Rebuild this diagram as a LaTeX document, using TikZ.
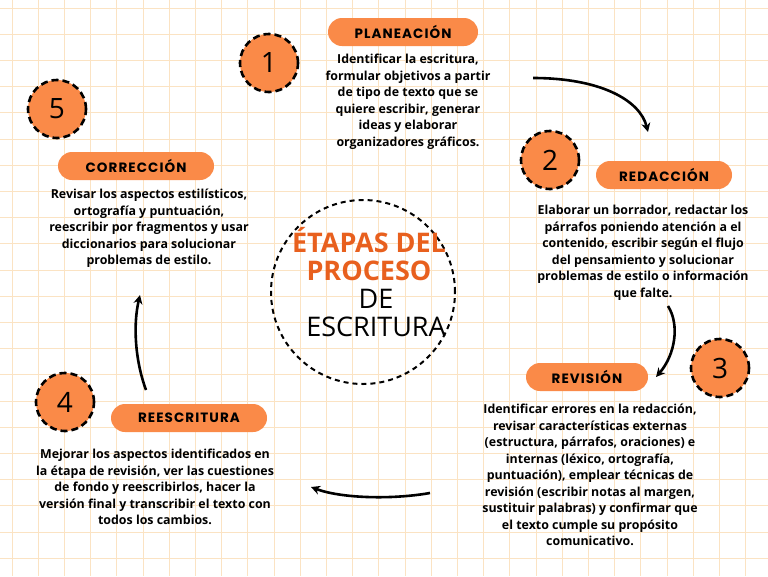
\documentclass[tikz,border=0pt]{standalone}
\usepackage{fontspec}
\setmainfont{Open Sans}
\newfontfamily\headf[LetterSpace=8]{Poppins}
\newfontfamily\titf{Open Sans}
\usetikzlibrary{arrows.meta}
\definecolor{org}{HTML}{FA8A48}
\definecolor{grid}{HTML}{FBE3C3}
\definecolor{ttl}{HTML}{E8601E}
\tikzset{
 num/.style={circle,draw=black,fill=org,line width=2.6pt,dash pattern=on 7pt off 4pt,minimum size=58pt,inner sep=0pt,font=\fontsize{28}{28}\selectfont},
 pill/.style={rounded corners=14pt,fill=org,minimum height=28pt,inner sep=0pt,font=\headf\bfseries\fontsize{13.5}{13.5}\selectfont},
 body/.style={align=center,font=\bfseries\fontsize{12.4}{16.5}\selectfont,inner sep=0pt},
 arr/.style={line width=2.6pt,-{Stealth[length=9pt,width=9pt]}}
}
\begin{document}
\begin{tikzpicture}[x=1pt,y=-1pt]
\fill[white] (0,0) rectangle (768,576);
\useasboundingbox (0,0) rectangle (768,576);
\foreach \i in {0,...,29} {\draw[grid,line width=1pt] (12+26.2*\i,0) -- (12+26.2*\i,576);}
\foreach \i in {0,...,22} {\draw[grid,line width=1pt] (0,8+26.2*\i) -- (768,8+26.2*\i);}
\node[circle,draw=black,line width=2pt,dash pattern=on 5pt off 4pt,minimum size=184pt] (c) at (363,292) {};
\node[align=center,inner sep=0pt,text=ttl,font=\titf\bfseries\fontsize{27}{28}\selectfont] (t1) at (369,254) {ÉTAPAS DEL\\PROCESO};
\node[align=center,inner sep=0pt,font=\titf\fontsize{27}{28}\selectfont] (t2) at (376,313) {DE\\ESCRITURA};
\node[num] (n1) at (269,63) {1};
\node[num] (n2) at (550,160) {2};
\node[num] (n3) at (720,368) {3};
\node[num] (n4) at (65,402) {4};
\node[num] (n5) at (57,109) {5};
\node[pill,minimum width=150pt] (p1) at (403,32) {PLANEACIÓN};
\node[pill,minimum width=136pt] (p2) at (664,175) {REDACCIÓN};
\node[pill,minimum width=122pt] (p3) at (587,377) {REVISIÓN};
\node[pill,minimum width=156pt] (p4) at (189,418) {REESCRITURA};
\node[pill,minimum width=156pt] (p5) at (136,166) {CORRECCIÓN};
\node[body,anchor=north] (b1) at (408,54) {Identificar la escritura,\\formular objetivos a partir\\de tipo de texto que se\\quiere escribir, generar\\ideas y elaborar\\organizadores gráficos.};
\node[body,anchor=north] (b2) at (643,205) {Elaborar un borrador, redactar los\\párrafos poniendo atención a el\\contenido, escribir según el flujo\\del pensamiento y solucionar\\problemas de estilo o información\\que falte.};
\node[body,anchor=north] (b3) at (590,404) {Identificar errores en la redacción,\\revisar características externas\\(estructura, párrafos, oraciones) e\\internas (léxico, ortografía,\\puntuación), emplear técnicas de\\revisión (escribir notas al margen,\\sustituir palabras) y confirmar que\\el texto cumple su propósito\\comunicativo.};
\node[body,anchor=north] (b4) at (155,449) {Mejorar los aspectos identificados en\\la étapa de revisión, ver las cuestiones\\de fondo y reescribirlos, hacer la\\versión final y transcribir el texto con\\todos los cambios.};
\node[body,anchor=north] (b5) at (149,189) {Revisar los aspectos estilísticos,\\ortografía y puntuación,\\reescribir por fragmentos y usar\\diccionarios para solucionar\\problemas de estilo.};
\coordinate (a1s) at (533,78); \coordinate (a1e) at (648,132);
\coordinate (a2s) at (668,306); \coordinate (a2e) at (656,377);
\coordinate (a3s) at (430,493); \coordinate (a3e) at (311,487);
\coordinate (a4s) at (146,390); \coordinate (a4e) at (140,295);
\draw[arr] (a1s) .. controls (600,78) and (640,100) .. (a1e);
\draw[arr] (a2s) .. controls (680,325) and (675,355) .. (a2e);
\draw[arr] (a3s) .. controls (390,500) and (340,498) .. (a3e);
\draw[arr] (a4s) .. controls (135,360) and (133,325) .. (a4e);
\end{tikzpicture}
\end{document}
